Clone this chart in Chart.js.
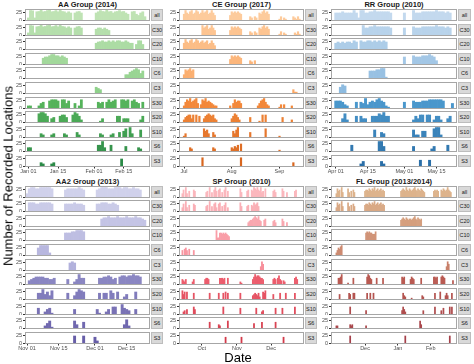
<!DOCTYPE html>
<html>
<head>
<meta charset="utf-8">
<script src="https://cdn.jsdelivr.net/npm/chart.js@4.4.1/dist/chart.umd.min.js"></script>
<style>
  body { margin: 0; background: #fff; font-family: "Liberation Sans", Arial, sans-serif; }
  #page { position: relative; width: 474px; height: 364px; overflow: hidden; }
  canvas { position: absolute; }
  .title { position: absolute; font-size: 7.5px; font-weight: bold; color: #1a1a1a; white-space: nowrap; line-height: 1; transform: translateX(-50%); }
  .strip { position: absolute; box-sizing: border-box; background: #d9d9d9; border: 1px solid #bdbdbd; color: #1a1a1a; font-size: 5.5px; display: flex; align-items: center; justify-content: center; }
  .axis-title { position: absolute; font-size: 13px; color: #000; white-space: nowrap; line-height: 1; }
</style>
</head>
<body>
<div id="page"></div>
<script>
// --- Data (counts per day, segments of [first day, [values...]]) ---

const rowNames = ['all', 'C30', 'C20', 'C10', 'C6', 'C3', 'S30', 'S20', 'S10', 'S6', 'S3'];
const yTicks = [0, 25];

// AA Group (2014), day 0 = Jan 01
const AA_ticks = [0, 14, 31, 45];
const AA_tickLabels = ['Jan 01', 'Jan 15', 'Feb 01', 'Feb 15'];
const AA_all = [[0, [8, 32, 31, 8, 28, 29, 33, 28, 29, 32, 33, 28, 29, 32, 28, 33, 29, 28, 24, 28, 24]], [22, [24, 28, 29, 24]], [32, [24, 28, 32, 29, 28, 33, 28, 29, 24, 28, 29, 32, 28, 29, 24, 20]], [49, [28, 29, 20, 16, 24, 28, 12]]];
const AA_C30 = [[0, [8, 32, 31, 8, 28, 29, 33, 28, 29, 32, 33, 28, 29, 32, 28, 33, 29, 28, 24, 28, 24]], [22, [24, 28, 29, 24]], [32, [20, 24, 24, 20, 24, 20, 16]]];
const AA_C20 = [[32, [20, 24, 25, 28, 24, 24, 28, 24, 28, 24, 28, 28, 24, 24, 28, 24, 20, 20]], [51, [16, 28, 28, 16]]];
const AA_C10 = [[7, [20, 24, 24, 28, 32, 32, 28, 28, 24, 28, 24, 20]]];
const AA_C6 = [[46, [12, 12, 20, 24, 28, 32, 28, 16, 24]]];
const AA_C3 = [[32, [20, 16, 12]]];
const AA_S30 = [[0, [8, 8]], [5, [8, 16, 20]], [10, [24, 28, 28, 28, 24]], [16, [28, 28, 16, 24]], [22, [16]], [24, [8, 28]], [33, [20, 16, 20]], [37, [20, 28, 20, 24, 28]], [44, [28, 28, 24, 28]], [49, [24, 28, 20, 16]], [54, [20]]];
const AA_S20 = [[5, [28, 32, 32, 28, 20]], [11, [12, 16]], [15, [20, 24, 24, 16]], [21, [24, 32, 28, 20, 8]], [34, [4, 12]], [42, [20, 20]], [45, [12, 12, 12]], [53, [8, 20]]];
const AA_S10 = [[6, [12, 8]], [11, [8, 12]], [17, [12, 8]], [23, [16, 8]], [34, [12, 8]], [39, [8, 12]], [43, [16]], [45, [20, 28]], [48, [32, 12]], [53, [24]]];
const AA_S6 = [[0, [12, 12]], [33, [20, 20, 32, 12]], [39, [20]], [46, [16]], [52, [12, 8]]];
const AA_S3 = [[6, [12, 8]], [11, [8, 12]], [44, [24]]];

// CE Group (2017), day 0 = Jul 01
const CE_ticks = [0, 31, 62];
const CE_tickLabels = ['Jul', 'Aug', 'Sep'];
const CE_all = [[0, [20, 32, 24, 20, 28, 32, 20, 24, 32, 28, 20, 24, 32, 24, 28, 32, 20, 24, 32, 24, 16]], [30, [16, 28, 24, 28, 24, 28, 24, 20]], [43, [12, 8, 0, 12, 8]], [49, [24, 20, 28, 32, 24, 28, 20]], [62, [4, 12, 0, 8, 4]], [71, [12, 8, 4, 12, 4]]];
const CE_C30 = [[12, [32, 24, 28, 32, 20, 24, 32, 24, 16]], [30, [16, 28, 24, 28, 24, 28, 24, 20]], [43, [12, 8, 0, 12, 8]], [49, [24, 20, 28, 32, 24, 28, 20]], [62, [4, 12, 0, 8, 4]], [72, [8, 4, 12, 4]]];
const CE_C20 = [[0, [20, 32, 24, 20, 28, 32, 20, 24, 32, 28, 20, 24, 28, 20, 24, 28, 16, 20, 28, 20, 12]]];
const CE_C10 = [[30, [16, 28, 24, 28, 24, 28, 24, 20]], [43, [12, 8, 0, 12]]];
const CE_C6 = [[0, [12, 28, 24, 28, 32, 24, 28]]];
const CE_C3 = [[71, [12, 4, 4]]];
const CE_S30 = [[0, [8, 20, 28, 24, 32, 20, 24, 28, 32, 16]], [11, [12, 28, 24, 32, 20, 24, 20, 16, 12, 8, 8]], [30, [8, 0, 16, 28, 20, 24, 24, 16]], [48, [8, 16, 24, 28, 32, 20, 12, 8]], [62, [4, 12, 0, 12]], [70, [8]]];
const CE_S20 = [[0, [8, 16, 20, 24, 24, 12, 24, 0, 24, 0, 20]], [13, [12, 20, 24, 28, 24, 20, 24, 12, 8]], [31, [12, 20, 28, 24, 16, 8]], [43, [16]], [49, [4]], [51, [24, 0, 24]], [64, [16]], [70, [8]]];
const CE_S10 = [[0, [4, 12]], [13, [28, 20, 24, 12]], [19, [16, 8]], [32, [20, 12, 24, 32]], [43, [16]], [53, [28]], [62, [4]]];
const CE_S6 = [[4, [12, 8]], [19, [12, 8]], [31, [12, 8, 16, 12, 20, 0, 24]], [62, [4]]];
const CE_S3 = [[12, [28]], [37, [28]], [71, [12]]];

// RR Group (2010), day 0 = Apr 01
const RR_ticks = [0, 14, 30, 44];
const RR_tickLabels = ['Apr 01', 'Apr 15', 'May 01', 'May 15'];
const RR_all = [[0, [24, 24, 24, 28, 24, 24, 24, 24, 32, 24, 8, 32, 32, 24, 24, 28, 28, 32, 28, 28, 28, 28, 28, 28, 24]], [30, [24]], [34, [32, 24, 24, 24, 28, 28, 28, 28, 28, 28, 32, 28, 28, 28, 24, 28, 24]]];
const RR_C30 = [[12, [32, 24, 24, 28, 28, 32, 28, 28, 28, 28, 28, 28, 24]], [30, [24]], [34, [28, 24, 24, 24, 28, 28, 28, 28, 28, 28, 32, 28, 28, 28, 24, 28, 24]]];
const RR_C20 = [[0, [20, 24, 20, 24, 20, 24, 24, 20, 28, 24, 0, 28, 24, 24, 28, 28, 24, 28, 24, 28, 24, 28, 24]]];
const RR_C10 = [[30, [24]], [34, [28, 24, 24, 24, 28, 28, 28, 32, 28, 24, 12]]];
const RR_C6 = [[15, [24, 24, 24, 28, 28, 32, 32, 4]]];
const RR_C3 = [[2, [20, 28, 24]]];
const RR_S30 = [[0, [24, 24, 24, 20, 12, 8]], [9, [20]], [11, [20, 16, 32, 12, 20, 24, 20, 28, 32, 24, 20, 8, 4]], [30, [20]], [34, [24, 20, 20, 20, 24, 24, 24, 28, 28, 28, 28, 28, 28, 24]], [51, [16]]];
const RR_S20 = [[3, [12, 28, 8]], [9, [20]], [11, [20, 12, 12]], [16, [20, 20, 20, 28, 24, 32, 20, 20]], [34, [8, 20, 12, 24, 24]], [40, [24, 24]], [43, [8, 20, 20, 8]], [49, [12, 20]]];
const RR_S10 = [[17, [24]], [20, [16, 12]], [34, [24, 8, 8]], [38, [20, 20]], [43, [28, 32, 32, 8]]];
const RR_S6 = [[7, [20]], [19, [32, 32, 16]], [34, [16]], [42, [8, 16]], [49, [20]]];
const RR_S3 = [[11, [8, 16]], [20, [16, 8]], [37, [20]], [41, [20]]];

// AA2 Group (2013), day 0 = Nov 01
const AA2_ticks = [0, 14, 30, 44];
const AA2_tickLabels = ['Nov 01', 'Nov 15', 'Dec 01', 'Dec 15'];
const AA2_all = [[0, [12, 28, 32, 32, 28, 28, 32, 32, 32, 32, 32, 28]], [17, [24, 28, 28, 28, 28, 28, 32, 28, 24]], [31, [24, 28, 32, 32, 32, 28, 28, 28, 32, 32, 32, 28, 32, 32, 28, 28, 32, 28, 28, 24]]];
const AA2_C30 = [[1, [28, 28, 28, 24, 24, 28, 28, 28, 28, 28, 24]], [17, [24, 24, 24, 24, 28, 24, 24, 24, 20]], [31, [24, 24, 28, 28, 28, 24, 24, 28, 24, 20]]];
const AA2_C20 = [[33, [24, 28, 28, 32, 28, 28, 28, 32, 28, 28, 28, 32, 28, 28, 28, 32, 28, 28, 24, 20]]];
const AA2_C10 = [[17, [24, 24, 24, 28, 28, 32, 32, 32, 28]]];
const AA2_C6 = [[5, [24, 32, 32, 32, 32, 8]]];
const AA2_C3 = [[19, [24, 28, 24]]];
const AA2_S30 = [[1, [12, 16, 20, 24, 24, 24, 24, 20, 20, 16, 16, 20]], [18, [16]], [21, [8, 16, 32, 20, 20]], [32, [20, 20, 24, 24, 28, 24, 16, 20]], [41, [24, 28, 28, 24, 28, 28, 32, 28, 28, 24]]];
const AA2_S20 = [[5, [20, 20, 32, 16, 24, 12, 28]], [18, [20]], [21, [12, 24, 32, 28, 24]], [32, [20]], [34, [20, 20]], [37, [28, 20]], [40, [24]], [43, [8, 16]], [48, [24]]];
const AA2_S10 = [[5, [20]], [8, [8, 16, 20, 4]], [21, [16]], [31, [16, 4]], [35, [8, 16]], [38, [24, 24]], [42, [32, 20, 16, 12]], [48, [16]]];
const AA2_S6 = [[8, [8, 16, 24, 4]], [21, [24, 12]], [25, [20]], [43, [12, 28, 8]]];
const AA2_S3 = [[21, [24]], [25, [24]], [30, [20, 8]]];

// SP Group (2010), day 0 = Oct 01
const SP_ticks = [0, 31, 61];
const SP_tickLabels = ['Oct', 'Nov', 'Dec'];
const SP_all = [[-17, [12, 24, 0, 32, 12, 0, 20]], [-7, [24, 20]], [4, [16, 20, 0, 32, 0, 16, 0, 24, 32, 20, 0, 24, 28, 0, 16, 0, 24, 32, 0, 20]], [34, [28, 16]], [40, [20, 24]], [44, [24, 20, 32, 28, 24, 32, 24, 20, 32, 16, 20, 0, 28]], [63, [20, 24, 16]], [71, [28, 20, 0, 0, 16]], [82, [20, 24]]];
const SP_C30 = [[-17, [12, 24, 0, 32, 12, 0, 20]], [-7, [24, 20]], [4, [16, 20, 0, 32, 0, 16, 0, 24, 28, 12, 0, 24, 28, 0, 16, 0, 20, 28, 0, 12]], [34, [28, 16]], [40, [16, 20]], [44, [20, 16, 28, 20, 24, 28, 16]]];
const SP_C20 = [[41, [12, 16, 20, 20, 24, 28, 32, 28, 24, 32, 20, 16]], [55, [20, 24]], [63, [16, 20, 12]], [71, [24, 16]], [75, [12]]];
const SP_C10 = [[13, [32, 8, 8, 24, 24, 20, 24, 20, 24, 20, 16, 12]]];
const SP_C6 = [[-17, [16, 0, 20, 24, 16, 0, 20]], [-7, [16]]];
const SP_C3 = [[52, [12, 28, 20]]];
const SP_S30 = [[-17, [16, 12, 8, 16]], [-8, [8, 16]], [3, [16, 20, 20, 16]], [16, [20, 20, 20, 16, 20]], [23, [20]], [34, [8, 4]], [45, [16, 24, 32, 24, 28, 28, 24, 20, 20, 16]], [63, [16, 20, 16]], [67, [20, 28, 16, 12]], [72, [12, 8]], [82, [20, 24, 16]]];
const SP_S20 = [[-17, [28, 16, 24, 0, 24]], [-7, [20]], [7, [20]], [15, [20]], [19, [20, 0, 24, 0, 20]], [34, [20]], [45, [12, 16, 20, 16, 12, 20, 8]], [54, [24, 20, 28]], [63, [16]], [69, [20]], [74, [20]], [82, [20]]];
const SP_S10 = [[-16, [8, 12, 0, 16]], [-7, [24, 16]], [19, [24]], [34, [20]], [48, [20]], [53, [8, 12]], [65, [20]], [71, [20]], [82, [24]]];
const SP_S6 = [[7, [20]], [15, [12, 8]], [23, [24]], [46, [16]], [53, [20]], [65, [20]]];
const SP_S3 = [[21, [20]], [35, [20]], [72, [20]]];

// FL Group (2013/2014), day 0 = Dec 01
const FL_ticks = [0, 31, 62];
const FL_tickLabels = ['Dec', 'Jan', 'Feb'];
const FL_all = [[-27, [12, 28, 20, 24, 0, 32, 16]], [-16, [28, 16, 0, 20, 0, 24, 16]], [0, [20, 24, 24, 20, 28, 24, 20, 28, 24, 32, 20, 24, 28, 20, 24, 28, 20, 24, 20]], [34, [20, 24, 28, 24, 20, 32, 24, 20, 28, 24, 20, 24, 28, 32, 24, 20, 28, 24, 20, 28, 24, 20, 16]], [65, [20, 24, 20, 24, 20]], [72, [24, 20, 28, 24, 20, 24, 32, 24, 20, 16]]];
const FL_C30 = [[-27, [12, 28, 20, 24, 0, 32, 16]], [-16, [28, 16, 0, 20, 0, 24, 16]], [0, [20, 24, 24, 20, 28, 24, 20, 28, 24, 32, 20, 24, 28, 20, 24, 28, 20, 24, 20]]];
const FL_C20 = [[34, [20, 24, 28, 24, 20, 28, 24, 20, 24, 24, 20, 24, 28, 32, 24, 20, 28, 24, 20, 24]]];
const FL_C10 = [[1, [24, 28, 24, 28, 24, 24, 20, 20, 20, 28]]];
const FL_C6 = [[-27, [8, 16, 24, 20, 28, 32]]];
const FL_C3 = [[77, [12, 28, 20]]];
const FL_S30 = [[-25, [20, 20, 24, 32]], [-16, [4]], [-11, [20]], [2, [24, 32, 28, 20, 16]], [11, [20]], [17, [20]], [35, [24, 20, 24]], [43, [16, 24, 20, 16]], [53, [20]], [65, [24, 24, 20, 24]], [72, [24, 28, 24, 20]], [83, [12]]];
const FL_S20 = [[-24, [16]], [-15, [20, 16]], [-11, [20, 20]], [2, [20]], [5, [20]], [8, [20]], [36, [20, 12, 8]], [44, [4]], [54, [12, 8]], [66, [20]], [71, [24]], [76, [12, 20, 12]], [82, [20]]];
const FL_S10 = [[-14, [24]], [1, [12]], [35, [12, 24, 16, 8]], [55, [12]], [66, [24]], [72, [12]], [74, [20]], [80, [24, 0, 24]]];
const FL_S6 = [[-27, [8, 8]], [-14, [12, 8, 12]], [1, [8]], [52, [24, 12]]];
const FL_S3 = [[-14, [24]], [38, [24]], [80, [24]]];

// --- Layout ---
const plotLeft = [25, 179, 331];
const plotW = [125, 125, 126];
const stripW = [12, 12, 13];
const rowTop = [9, 185.5];
const rowPitch = [14.6, 14.66];
const titleTop = [0.5, 177.5];
const boxH = 12;
const yAxisW = 17;
const xAxisH = 8;
const yMin = -2, yMax = 37;

const panels = [
  { title: 'AA Group (2014)', col: 0, row: 0, xMin: -1.6, xMax: 57.4, ticks: AA_ticks, tickLabels: AA_tickLabels,
    rows: [AA_all, AA_C30, AA_C20, AA_C10, AA_C6, AA_C3, AA_S30, AA_S20, AA_S10, AA_S6, AA_S3],
    light: ['#bfe3b4', '#8fd18b'], dark: ['#55b35b', '#2b8a47'] },
  { title: 'CE Group (2017)', col: 1, row: 0, xMin: -3.25, xMax: 77.9, ticks: CE_ticks, tickLabels: CE_tickLabels,
    rows: [CE_all, CE_C30, CE_C20, CE_C10, CE_C6, CE_C3, CE_S30, CE_S20, CE_S10, CE_S6, CE_S3],
    light: ['#fdcb9c', '#fba865'], dark: ['#f3883a', '#d8661f'] },
  { title: 'RR Group (2010)', col: 2, row: 0, xMin: -2.1, xMax: 53, ticks: RR_ticks, tickLabels: RR_tickLabels,
    rows: [RR_all, RR_C30, RR_C20, RR_C10, RR_C6, RR_C3, RR_S30, RR_S20, RR_S10, RR_S6, RR_S3],
    light: ['#c3d9ee', '#8dbbe0'], dark: ['#4a97cc', '#2a6fa8'] },
  { title: 'AA2 Group (2013)', col: 0, row: 1, xMin: -0.9, xMax: 54.3, ticks: AA2_ticks, tickLabels: AA2_tickLabels,
    rows: [AA2_all, AA2_C30, AA2_C20, AA2_C10, AA2_C6, AA2_C3, AA2_S30, AA2_S20, AA2_S10, AA2_S6, AA2_S3],
    light: ['#d0d1eb', '#b2b1dc'], dark: ['#8a86c2', '#675ea8'] },
  { title: 'SP Group (2010)', col: 1, row: 1, xMin: -20, xMax: 90, ticks: SP_ticks, tickLabels: SP_tickLabels,
    rows: [SP_all, SP_C30, SP_C20, SP_C10, SP_C6, SP_C3, SP_S30, SP_S20, SP_S10, SP_S6, SP_S3],
    light: ['#fbb7bd', '#f78e9a'], dark: ['#ec5d6d', '#d33a4a'] },
  { title: 'FL Group (2013/2014)', col: 2, row: 1, xMin: -32.1, xMax: 86.8, ticks: FL_ticks, tickLabels: FL_tickLabels,
    rows: [FL_all, FL_C30, FL_C20, FL_C10, FL_C6, FL_C3, FL_S30, FL_S20, FL_S10, FL_S6, FL_S3],
    light: ['#ddb38c', '#c9806a'], dark: ['#b95a52', '#a5404a'] }
];

Chart.defaults.font.family = '"Liberation Sans", Arial, sans-serif';
const tickFont = { size: 5.5 };
const page = document.getElementById('page');

function addDiv(cls, text, css) {
  const d = document.createElement('div');
  d.className = cls;
  d.textContent = text;
  Object.assign(d.style, css);
  page.appendChild(d);
  return d;
}

function mix(c1, c2, t) {
  const a = [1, 3, 5].map(i => parseInt(c1.substr(i, 2), 16));
  const b = [1, 3, 5].map(i => parseInt(c2.substr(i, 2), 16));
  return 'rgb(' + a.map((v, i) => Math.round(v + (b[i] - v) * t)).join(',') + ')';
}

// every day in the visible range gets a bar (zero where nothing recorded)
function dayValues(segments, xMin, xMax) {
  const byDay = {};
  segments.forEach(([start, vals]) => vals.forEach((v, i) => { byDay[start + i] = v; }));
  const pts = [];
  for (let d = Math.ceil(xMin); d <= Math.floor(xMax); d++) pts.push({ x: d, y: byDay[d] || 0 });
  return pts;
}

const panelFrame = {
  id: 'panelFrame',
  afterDraw(chart) {
    const { ctx, chartArea: a } = chart;
    ctx.save();
    ctx.strokeStyle = '#a6a6a6';
    ctx.lineWidth = 1;
    ctx.strokeRect(Math.round(a.left) + 0.5, Math.round(a.top) + 0.5, Math.round(a.width) - 1, Math.round(a.height) - 1);
    ctx.restore();
  }
};

function drawRow(p, r, color) {
  const last = r === rowNames.length - 1;
  const top = Math.round(rowTop[p.row] + r * rowPitch[p.row]);
  const w = yAxisW + plotW[p.col];
  const h = boxH + (last ? xAxisH : 0);
  const cv = document.createElement('canvas');
  cv.width = w;
  cv.height = h;
  Object.assign(cv.style, { left: (plotLeft[p.col] - yAxisW) + 'px', top: top + 'px', width: w + 'px', height: h + 'px' });
  page.appendChild(cv);

  addDiv('strip', rowNames[r], {
    left: (plotLeft[p.col] + plotW[p.col] + 1) + 'px', top: top + 'px',
    width: stripW[p.col] + 'px', height: boxH + 'px'
  });

  new Chart(cv, {
    type: 'bar',
    data: {
      datasets: [{
        data: dayValues(p.rows[r], p.xMin, p.xMax),
        backgroundColor: color,
        borderWidth: 0,
        barPercentage: 1,
        categoryPercentage: 1
      }]
    },
    options: {
      responsive: false,
      animation: false,
      events: [],
      devicePixelRatio: 1,
      layout: { padding: 0 },
      plugins: { legend: { display: false }, tooltip: { enabled: false } },
      scales: {
        x: {
          type: 'linear', min: p.xMin, max: p.xMax, bounds: 'data', offset: false, display: last,
          grid: { offset: false, drawOnChartArea: false, tickLength: 1.5, color: '#333' },
          border: { display: false },
          ticks: { autoSkip: false, maxRotation: 0, padding: 0, color: '#4d4d4d', font: tickFont,
                   callback: (v, i) => p.tickLabels[i] },
          afterBuildTicks: s => { s.ticks = p.ticks.map(v => ({ value: v })); },
          afterFit: s => { if (last) s.height = xAxisH; s.paddingLeft = 0; s.paddingRight = 0; }
        },
        y: {
          min: yMin, max: yMax, bounds: 'data',
          grid: { drawOnChartArea: false, tickLength: 2, color: '#333' },
          border: { display: false },
          ticks: { autoSkip: false, padding: 1, color: '#4d4d4d', font: tickFont },
          afterBuildTicks: s => { s.ticks = yTicks.map(v => ({ value: v })); },
          afterFit: s => { s.width = yAxisW; s.paddingTop = 0; s.paddingBottom = 0; }
        }
      }
    },
    plugins: [panelFrame]
  });
}

panels.forEach(p => {
  addDiv('title', p.title, { left: (plotLeft[p.col] + plotW[p.col] / 2) + 'px', top: titleTop[p.row] + 'px' });
  rowNames.forEach((name, r) => {
    const color = r < 6 ? mix(p.light[0], p.light[1], r / 5) : mix(p.dark[0], p.dark[1], (r - 6) / 4);
    drawRow(p, r, color);
  });
});

addDiv('axis-title', 'Number of Recorded Locations', { left: '8px', top: '176px', transform: 'translate(-50%, -50%) rotate(-90deg)' });
addDiv('axis-title', 'Date', { left: '238px', top: '357px', transform: 'translate(-50%, -50%)' });
</script>
</body>
</html>
